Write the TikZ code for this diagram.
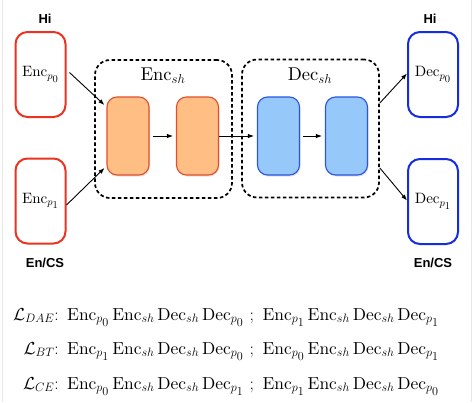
\RequirePackage{fix-cm}
\documentclass[tikz,border=0pt]{standalone}
\usepackage{fontspec}
\setmainfont{lmroman10-regular.otf}[ItalicFont=lmroman10-italic.otf,BoldFont=lmroman10-bold.otf]
\newfontfamily\hfont{Liberation Sans}
\usetikzlibrary{arrows.meta,calc,shadows}
\newcommand\encw[1]{\mathrm{Enc}_{#1}}
\newcommand\decw[1]{\mathrm{Dec}_{#1}}
\newcommand\pzero{p_{\scriptstyle 0}}
\newcommand\pone{p_{\scriptstyle 1}}
\definecolor{redE}{RGB}{232,52,32}
\definecolor{blueD}{RGB}{20,45,225}
\definecolor{orFill}{RGB}{255,190,132}
\definecolor{orEdge}{RGB}{226,78,42}
\definecolor{blFill}{RGB}{150,200,250}
\definecolor{blEdge}{RGB}{40,85,228}
\tikzset{
  outbox/.style={draw, line width=2pt, rounded corners=12pt, minimum width=50pt, minimum height=85pt, inner sep=0pt, font=\fontsize{15}{18}\selectfont},
  encout/.style={outbox, draw=redE},
  decout/.style={outbox, draw=blueD},
  shbox/.style={draw, dash pattern=on 3.5pt off 2.5pt, line width=1.7pt, rounded corners=15pt, minimum width=137pt, minimum height=138pt, inner sep=0pt},
  inbox/.style={line width=1.1pt, rounded corners=10pt, minimum width=42pt, minimum height=78pt, inner sep=0pt, drop shadow={opacity=0.22, shadow xshift=1pt, shadow yshift=-1.5pt}},
  orbox/.style={inbox, draw=orEdge, fill=orFill},
  blbox/.style={inbox, draw=blEdge, fill=blFill},
  arr/.style={-{Latex[length=6pt,width=4.5pt]}, line width=0.9pt},
  langlab/.style={font=\hfont\bfseries\fontsize{13}{15}\selectfont, inner sep=0pt},
  shlab/.style={font=\fontsize{18.5}{22}\selectfont, inner sep=0pt},
  loss/.style={font=\fontsize{17.4}{20}\selectfont, inner sep=0pt}
}
\begin{document}
\begin{tikzpicture}[x=1pt,y=-1pt]
\useasboundingbox (0,0) rectangle (474,402);
\fill[white] (0,0) rectangle (474,402);
\draw[gray!18, line width=1pt] (2.5,0) -- (2.5,402);
\draw[gray!18, line width=1pt] (471.5,0) -- (471.5,402);

% dashed shared boxes
\node[shbox] (encbox) at (163.5,129) {};
\node[shbox] (decbox) at (310.5,128.5) {};
\node[shlab] (enclab) at (163,76) {$\encw{sh}$};
\node[shlab] (declab) at (310,76) {$\decw{sh}$};

% inner boxes
\node[orbox] (o1) at (128,136) {};
\node[orbox] (o2) at (197.5,136) {};
\node[blbox] (b1) at (278.5,136) {};
\node[blbox] (b2) at (346.5,136) {};

% outer boxes
\node[encout] (ep0) at (40.5,74.5) {$\encw{\pzero}$};
\node[encout] (ep1) at (40.5,201) {$\encw{\pone}$};
\node[decout] (dp0) at (433,74.5) {$\decw{\pzero}$};
\node[decout] (dp1) at (433,201.5) {$\decw{\pone}$};

% language labels
\node[langlab] (hil) at (45,19) {Hi};
\node[langlab] (enl) at (45,263) {En/CS};
\node[langlab] (hir) at (430,19) {Hi};
\node[langlab] (enr) at (433,263) {En/CS};

% connectors
\draw[arr] ($(ep0.east)+(3,-2)$) -- ($(o1.west)+(-2,-31)$);
\draw[arr] ($(ep1.east)+(0,4)$) -- ($(o1.west)+(-2,32)$);
\draw[arr] ($(o1.east)+(3,0)$) -- ($(o2.west)+(-3,0)$);
\draw[arr] (o2.east) -- ($(b1.west)+(-3,0)$);
\draw[arr] ($(b1.east)+(3,0)$) -- ($(b2.west)+(-3,0)$);
\draw[arr] ($(decbox.east)+(0,-25.5)$) -- ($(dp0.west)+(0,-1)$);
\draw[arr] ($(decbox.east)+(0,39.5)$) -- ($(dp1.west)+(0,-1)$);

% losses
\node[loss, anchor=base east] (l1) at (59,320) {$\mathcal{L}_{DAE}\colon$};
\node[loss, anchor=base west] (r1) at (67,320) {$\encw{\pzero}\,\encw{sh}\,\decw{sh}\,\decw{\pzero}\ ;\ \encw{\pone}\,\encw{sh}\,\decw{sh}\,\decw{\pone}$};
\node[loss, anchor=base east] (l2) at (59,354) {$\mathcal{L}_{BT}\colon$};
\node[loss, anchor=base west] (r2) at (67,354) {$\encw{\pone}\,\encw{sh}\,\decw{sh}\,\decw{\pzero}\ ;\ \encw{\pzero}\,\encw{sh}\,\decw{sh}\,\decw{\pone}$};
\node[loss, anchor=base east] (l3) at (59,389) {$\mathcal{L}_{CE}\colon$};
\node[loss, anchor=base west] (r3) at (67,389) {$\encw{\pzero}\,\encw{sh}\,\decw{sh}\,\decw{\pone}\ ;\ \encw{\pone}\,\encw{sh}\,\decw{sh}\,\decw{\pzero}$};
\end{tikzpicture}
\end{document}
